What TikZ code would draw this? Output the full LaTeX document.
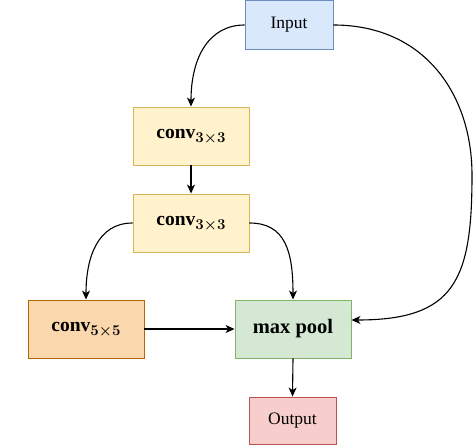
\documentclass[tikz,border=0pt]{standalone}
\usepackage{fontspec}
\setmainfont{Liberation Serif}
\newfontfamily\lmfont{Latin Modern Roman}
\usetikzlibrary{arrows.meta}
\definecolor{bluef}{HTML}{DAE8FC}\definecolor{blued}{HTML}{6C8EBF}
\definecolor{yelf}{HTML}{FFF2CC}\definecolor{yeld}{HTML}{D6B656}
\definecolor{orf}{HTML}{FAD7AC}\definecolor{ord}{HTML}{B46504}
\definecolor{grf}{HTML}{D5E8D4}\definecolor{grd}{HTML}{82B366}
\definecolor{redf}{HTML}{F8CECC}\definecolor{redd}{HTML}{B85450}
\newcommand{\convlbl}[1]{conv\raisebox{-3.5pt}{\lmfont\bfseries\fontsize{15}{17}\selectfont #1}}
\tikzset{
  box/.style={draw, line width=0.9pt, inner sep=0pt, minimum width=116pt, minimum height=58pt},
  iobox/.style={box, minimum width=88pt, minimum height=49pt, font=\fontsize{17.5}{20}\selectfont},
  convbox/.style={box, font=\fontsize{19.5}{22}\selectfont\bfseries},
  conn/.style={line width=1.1pt, -{Stealth[length=9pt,width=8pt,inset=2.5pt]}}
}
\begin{document}
\begin{tikzpicture}[x=1pt,y=-1pt]
\useasboundingbox (0,0) rectangle (474,447);
\node[iobox, fill=bluef, draw=blued] (in) at (289,25) {Input};
\node[convbox, fill=yelf, draw=yeld] (c1) at (191,136) {\convlbl{3×3}};
\node[convbox, fill=yelf, draw=yeld] (c2) at (191,223) {\convlbl{3×3}};
\node[convbox, fill=orf, draw=ord] (c5) at (86,329) {\convlbl{5×5}};
\node[box, fill=grf, draw=grd, font=\fontsize{20.5}{23}\selectfont\bfseries] (mp) at (293,329) {max pool};
\node[iobox, minimum width=87pt, minimum height=47pt, fill=redf, draw=redd] (out) at (292.5,420.5) {Output};
\coordinate (bend) at (472,175);
\draw[conn] (in.west) .. controls +(-35,0) and +(0,-50) .. (c1.north);
\draw[conn] (c1.south) -- (c2.north);
\draw[conn] (c2.west) .. controls +(-35,0) and +(0,-42) .. (c5.north);
\draw[conn] (c2.east) .. controls +(36,0) and +(0,-48) .. (mp.north);
\draw[conn] (c5.east) -- (mp.west);
\draw[conn] (mp.south) -- (out.north);
\draw[conn] (in.east) .. controls (425,25) and (472,95) .. (bend)
  .. controls (472,280) and (455,320) .. ([yshift=9pt]mp.east);
\end{tikzpicture}
\end{document}
